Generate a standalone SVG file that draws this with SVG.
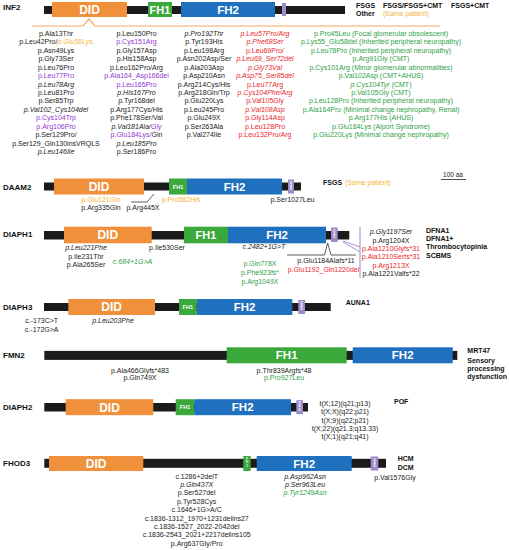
<svg xmlns="http://www.w3.org/2000/svg" width="509" height="550" viewBox="0 0 509 550">
<style>
text{font-family:"Liberation Sans",Arial,sans-serif}
.t{font-size:7px;fill:#222;text-anchor:middle}
.i{font-style:italic}
.pu{fill:#9236d2}
.rd{fill:#e9262b}
.gn{fill:#2f9f4a}
.or{fill:#f5b43a}
.bk{fill:#222}
.lab{font-size:8px;font-weight:bold;fill:#111}
.dis{font-size:7px;font-weight:bold;fill:#111}
.bar{fill:#1b1b1b}
.did{fill:#f0903a}
.fh1{fill:#3aa83a}
.fh2{fill:#1f70bf}
.dad{fill:#9d8bc9}
.dt{font-weight:bold;fill:#fff;text-anchor:middle}
.dd{font-size:3px;fill:#fff;text-anchor:middle;font-weight:bold}
.ln{fill:none;stroke:#333;stroke-width:0.8}
</style>

<g id="legend">
<text class="dis" x="356" y="7.5">FSGS</text>
<text class="dis pu" x="383" y="7.5">FSGS/FSGS+CMT</text>
<text class="dis rd" x="451" y="7.5">FSGS+CMT</text>
<text class="dis gn" x="356" y="16">Other</text>
<text class="t or" x="383" y="16" style="text-anchor:start">(Same patient)</text>
<text class="t" x="453" y="177" style="font-size:6.5px">100 aa</text>
<line x1="441" y1="179.5" x2="466" y2="179.5" stroke="#222" stroke-width="0.8"/>
</g>

<g id="connectors">
<path d="M32,26 H83 L89,19 L95,26 H440" fill="none" stroke="#f5a860" stroke-width="1.2"/>
<polyline class="ln" points="131,202 147,202 154,194"/>
<path class="ln" d="M287,255 H324.5 L327.7,243 L331,255 H356"/>
<line x1="360" y1="227" x2="360" y2="278" stroke="#9d8bc9" stroke-width="1"/>
<path d="M343,241 L360,247 M343,242 L360,252" fill="none" stroke="#9d8bc9" stroke-width="0.9"/>
</g>

<g id="INF2">
<text class="lab" x="3" y="10.3">INF2</text>
<rect class="bar" x="44" y="6" width="301" height="8"/>
<rect class="did" x="52" y="2" width="75" height="15"/>
<text class="dt" x="89.5" y="14" font-size="12">DID</text>
<rect class="fh1" x="148" y="2" width="24" height="15"/>
<text class="dt" x="160" y="13.8" font-size="11">FH1</text>
<rect class="fh2" x="181" y="2" width="94" height="15"/>
<text class="dt" x="228" y="14" font-size="11.5">FH2</text>
<rect class="dad" x="282" y="3" width="4" height="13"/>
<g class="t">
<text x="56" y="35.8">p.Ala13Thr</text>
<text x="56" y="44.26">p.Leu42Pro/<tspan class="or i">p.Glu58Lys</tspan></text>
<text x="56" y="52.72">p.Asn49Lys</text>
<text x="56" y="61.18">p.Gly73Ser</text>
<text x="56" y="69.64">p.Leu76Pro</text>
<text x="56" y="78.1" class="pu">p.Leu77Pro</text>
<text x="56" y="86.56" class="i">p.Leu78Arg</text>
<text x="56" y="95.02">p.Leu81Pro</text>
<text x="56" y="103.48">p.Ser85Trp</text>
<text x="56" y="111.94" class="i">p.Val102_Cys104del</text>
<text x="56" y="120.4" class="pu">p.Cys104Trp</text>
<text x="56" y="128.86" class="pu">p.Arg106Pro</text>
<text x="56" y="137.32">p.Ser129Pro/</text>
<text x="56" y="145.78">p.Ser129_Gln130insVRQLS</text>
<text x="56" y="154.24" class="i">p.Leu146Ile</text>

<text x="136.5" y="35.8">p.Leu150Pro</text>
<text x="136.5" y="44.26" class="pu">p.Cys151Arg</text>
<text x="136.5" y="52.72">p.Gly157Asp</text>
<text x="136.5" y="61.18">p.His158Asp</text>
<text x="136.5" y="69.64">p.Leu162Pro/Arg</text>
<text x="136.5" y="78.1" class="pu">p.Ala164_Asp166del</text>
<text x="136.5" y="86.56" class="pu">p.Leu165Pro</text>
<text x="136.5" y="95.02" class="i">p.His167Pro</text>
<text x="136.5" y="103.48">p.Tyr168del</text>
<text x="136.5" y="111.94">p.Arg177Cys/His</text>
<text x="136.5" y="120.4">p.Phe178Ser/Val</text>
<text x="136.5" y="128.86" class="i">p.Val181Ala/<tspan class="pu">Gly</tspan></text>
<text x="136.5" y="137.32"><tspan class="pu">p.Glu184Lys/</tspan>Gln</text>
<text x="136.5" y="145.78" class="i">p.Leu185Pro</text>
<text x="136.5" y="154.24">p.Ser186Pro</text>

<text x="204" y="35.8" class="i">p.Pro192Thr</text>
<text x="204" y="44.26">p.Tyr193His</text>
<text x="204" y="52.72">p.Leu198Arg</text>
<text x="204" y="61.18">p.Asn202Asp/Ser</text>
<text x="204" y="69.64">p.Ala203Asp</text>
<text x="204" y="78.1">p.Asp210Asn</text>
<text x="204" y="86.56">p.Arg214Cys/His</text>
<text x="204" y="95.02">p.Arg218Gln/Trp</text>
<text x="204" y="103.48">p.Glu220Lys</text>
<text x="204" y="111.94">p.Leu245Pro</text>
<text x="204" y="120.4">p.Glu249X</text>
<text x="204" y="128.86">p.Ser263Ala</text>
<text x="204" y="137.32">p.Val274Ile</text>

<text x="265" y="35.8" class="rd i">p.Leu57Pro/Arg</text>
<text x="265" y="44.26" class="rd i">p.Phe68Ser</text>
<text x="265" y="52.72" class="rd">p.Leu69Pro/</text>
<text x="265" y="61.18" class="rd i">p.Leu69_Ser72del</text>
<text x="265" y="69.64" class="rd i">p.Gly73Val</text>
<text x="265" y="78.1" class="rd i">p.Asp75_Ser85del</text>
<text x="265" y="86.56" class="rd">p.Leu77Arg</text>
<text x="265" y="95.02" class="rd i">p.Cys104Phe/Arg</text>
<text x="265" y="103.48" class="rd">p.Val105Gly</text>
<text x="265" y="111.94" class="rd i">p.Val108Asp</text>
<text x="265" y="120.4" class="rd">p.Gly114Asp</text>
<text x="265" y="128.86" class="rd">p.Leu128Pro</text>
<text x="265" y="137.32" class="rd">p.Leu132Pro/Arg</text>

<text x="381" y="35.8" class="gn">p.Pro45Leu (Focal glomerular obsolescent)</text>
<text x="381" y="44.26" class="gn">p.Lys55_Glu58del (Inherited peripheral neuropathy)</text>
<text x="381" y="52.72" class="gn">p.Leu78Pro (Inherited peripheral neuropathy)</text>
<text x="381" y="61.18" class="gn">p.Arg91Gly (CMT)</text>
<text x="381" y="69.64" class="gn">p.Cys101Arg (Minor glomerular abnormalities)</text>
<text x="381" y="78.1" class="gn">p.Val102Asp (CMT+AHUS)</text>
<text x="381" y="86.56" class="gn"><tspan class="i">p.Cys104Tyr</tspan> (CMT)</text>
<text x="381" y="95.02" class="gn">p.Val105Gly (CMT)</text>
<text x="381" y="103.48" class="gn">p.Leu128Pro (Inherited peripheral neuropathy)</text>
<text x="381" y="111.94" class="gn">p.Ala164Pro (Minimal change nephropathy, Renal)</text>
<text x="381" y="120.4" class="gn">p.Arg177His (AHUS)</text>
<text x="381" y="128.86" class="gn">p.Glu184Lys (Alport Syndrome)</text>
<text x="381" y="137.32" class="gn">p.Glu220Lys (Minimal change nephropathy)</text>
</g>
</g>

<g id="DAAM2">
<text class="lab" x="3" y="189.6">DAAM2</text>
<rect class="bar" x="44" y="182.5" width="257" height="8"/>
<rect class="did" x="54" y="178.5" width="90" height="16"/>
<text class="dt" x="99" y="190.8" font-size="12">DID</text>
<rect class="fh1" x="169" y="178.5" width="18" height="16"/>
<text class="dt" x="178" y="188.5" font-size="5.5">FH1</text>
<rect class="fh2" x="187" y="178.5" width="95" height="16"/>
<text class="dt" x="234.5" y="190.6" font-size="11.5">FH2</text>
<rect class="dad" x="288" y="179.5" width="6" height="14"/>
<text class="dd" x="291" y="183.5">D<tspan x="291" dy="3.2">A</tspan><tspan x="291" dy="3.2">D</tspan></text>
<text class="t or" x="101" y="201.5">p.Glu121Gln</text>
<text class="t" x="101" y="210.2">p.Arg335Gln</text>
<text class="t" x="143" y="210.2">p.Arg445X</text>
<text class="t or" x="181" y="201.5">p.Pro582His</text>
<text class="t" x="292.5" y="201.8">p.Ser1027Leu</text>
<text class="dis" x="323" y="185">FSGS</text>
<text class="t or" x="345" y="185" style="text-anchor:start">(Same patient)</text>
</g>

<g id="DIAPH1">
<text class="lab" x="3" y="236.9">DIAPH1</text>
<rect class="bar" x="44" y="231" width="305.3" height="8.5"/>
<rect class="did" x="64" y="226.7" width="87.7" height="16.6"/>
<text class="dt" x="107.8" y="239.2" font-size="12">DID</text>
<rect class="fh1" x="184" y="226.7" width="44" height="16.6"/>
<text class="dt" x="206" y="238.9" font-size="11">FH1</text>
<rect class="fh2" x="228" y="226.7" width="98" height="16.6"/>
<text class="dt" x="277" y="239.2" font-size="11.5">FH2</text>
<rect class="dad" x="331" y="227.5" width="6.7" height="14.5"/>
<text class="dd" x="334.3" y="231.8">D<tspan x="334.3" dy="3.3">A</tspan><tspan x="334.3" dy="3.3">D</tspan></text>
<text class="t i" x="86" y="249.8">p.Leu221Phe</text>
<text class="t" x="86" y="258.5">p.Ile231Thr</text>
<text class="t" x="86" y="266.8">p.Ala265Ser</text>
<text class="t i gn" x="132.5" y="263.5">c.684+1G&gt;A</text>
<text class="t" x="167" y="249.8">p.Ile530Ser</text>
<text class="t i" x="264" y="249.2">c.2482+1G&gt;T</text>
<text class="t gn" x="260" y="265.8">p.Gln778X</text>
<text class="t gn" x="260" y="274.8">p.Phe923fs*</text>
<text class="t gn" x="260" y="283.8">p.Arg1049X</text>
<text class="t" x="326" y="263.2">p.Glu1184Alafs*11</text>
<text class="t rd" x="323.5" y="271.8">p.Glu1192_Gln1220del</text>
<text class="t i" x="391" y="234.2">p.Gly1197Ser</text>
<text class="t" x="391" y="242.5">p.Arg1204X</text>
<text class="t rd" x="391" y="250.8">p.Ala1210Glyfs*31</text>
<text class="t rd" x="391" y="259.2">p.Ala1210Serfs*31</text>
<text class="t rd" x="391" y="267.8">p.Arg1213X</text>
<text class="t" x="391" y="276.2">p.Ala1221Valfs*22</text>
<text class="dis" x="426" y="232.5">DFNA1</text>
<text class="dis rd" x="426" y="240.8">DFNA1+</text>
<text class="dis rd" x="426" y="249.2">Thrombocytopinia</text>
<text class="dis gn" x="426" y="258.2">SCBMS</text>
</g>

<g id="DIAPH3">
<text class="lab" x="3" y="310.2">DIAPH3</text>
<rect class="bar" x="44" y="303" width="286.7" height="8"/>
<rect class="did" x="68.3" y="299" width="86.7" height="16"/>
<text class="dt" x="111.7" y="311.3" font-size="12">DID</text>
<rect class="fh1" x="179" y="299" width="17.7" height="16"/>
<text class="dt" x="187.8" y="309" font-size="5.5">FH1</text>
<rect class="fh2" x="196.7" y="299" width="95.6" height="16"/>
<text class="dt" x="244.5" y="311.1" font-size="11.5">FH2</text>
<rect class="dad" x="298.3" y="300" width="6.7" height="14"/>
<text class="dd" x="301.7" y="304">D<tspan x="301.7" dy="3.2">A</tspan><tspan x="301.7" dy="3.2">D</tspan></text>
<text class="dis" x="345.7" y="304.5">AUNA1</text>
<text class="t" x="41.7" y="323.2">c.-173C&gt;T</text>
<text class="t" x="41.7" y="331.5">c.-172G&gt;A</text>
<text class="t i" x="113" y="323.2">p.Leu203Phe</text>
</g>

<g id="FMN2">
<text class="lab" x="3" y="358">FMN2</text>
<rect class="bar" x="44.3" y="350.9" width="413" height="9"/>
<rect class="fh1" x="226.7" y="347.3" width="120" height="16"/>
<text class="dt" x="286.7" y="359.4" font-size="11.5">FH1</text>
<rect class="fh2" x="352.7" y="347.3" width="100" height="16"/>
<text class="dt" x="402.7" y="359.4" font-size="11.5">FH2</text>
<text class="dis" x="467.3" y="353.2">MRT47</text>
<text class="dis gn" x="467.3" y="362.5">Sensory</text>
<text class="dis gn" x="467.3" y="370.8">processing</text>
<text class="dis gn" x="467.3" y="379">dysfunction</text>
<text class="t" x="140" y="372.5">p.Ala466Glyfs*483</text>
<text class="t" x="140" y="380">p.Gln749X</text>
<text class="t" x="284" y="372.5">p.Thr839Argfs*48</text>
<text class="t gn" x="284" y="380">p.Pro927Leu</text>
</g>

<g id="DIAPH2">
<text class="lab" x="3" y="410.2">DIAPH2</text>
<rect class="bar" x="44.3" y="403" width="263.7" height="8.5"/>
<rect class="did" x="65.7" y="399.2" width="87.6" height="16"/>
<text class="dt" x="109.5" y="411.5" font-size="12">DID</text>
<rect class="fh1" x="175.7" y="399.2" width="18.6" height="16"/>
<text class="dt" x="185" y="409.2" font-size="5.5">FH1</text>
<rect class="fh2" x="194.3" y="399.2" width="96.7" height="16"/>
<text class="dt" x="242.7" y="411.3" font-size="11.5">FH2</text>
<rect class="dad" x="296.3" y="400.2" width="6.7" height="14"/>
<text class="dd" x="299.7" y="404.2">D<tspan x="299.7" dy="3.2">A</tspan><tspan x="299.7" dy="3.2">D</tspan></text>
<text class="t" x="345" y="405.8">t(X;12)(q21;p13)</text>
<text class="t" x="345" y="414.2">t(X;X)(q22;p21)</text>
<text class="t" x="345" y="422.5">t(X;9)(q22;p21)</text>
<text class="t" x="345" y="430.8">t(X;22)(q21.3;q13.33)</text>
<text class="t" x="345" y="439.2">t(X;1)(q21;q41)</text>
<text class="dis" x="394" y="404.2">POF</text>
</g>

<g id="FHOD3">
<text class="lab" x="3" y="465.6">FHOD3</text>
<rect class="bar" x="44.3" y="458.8" width="341.7" height="9"/>
<rect class="did" x="49" y="456" width="94.3" height="15"/>
<text class="dt" x="96.2" y="467.7" font-size="12">DID</text>
<rect class="fh1" x="243.3" y="456" width="7.4" height="15"/>
<text class="dd" x="247" y="460">F<tspan x="247" dy="3.3">H</tspan><tspan x="247" dy="3.3">1</tspan></text>
<rect class="fh2" x="256.7" y="456" width="95" height="15"/>
<text class="dt" x="304.2" y="467.6" font-size="11.5">FH2</text>
<rect class="dad" x="370.7" y="456.5" width="7.6" height="14"/>
<text class="dd" x="374.5" y="460.5">D<tspan x="374.5" dy="3.2">A</tspan><tspan x="374.5" dy="3.2">D</tspan></text>
<text class="dis" x="397.7" y="460.8">HCM</text>
<text class="dis gn" x="397.7" y="469.8">DCM</text>
<text class="t i" x="305" y="478.5">p.Asp962Asn</text>
<text class="t i" x="305" y="486.5">p.Ser963Leu</text>
<text class="t i gn" x="305" y="495.2">p.Tyr1249Asn</text>
<text class="t" x="395" y="480.2">p.Val1576Gly</text>
<text class="t" x="196.7" y="478.5">c.1286+2delT</text>
<text class="t i" x="196.7" y="486.9">p.Gln437X</text>
<text class="t" x="196.7" y="495.3">p.Ser527del</text>
<text class="t" x="196.7" y="503.7">p.Tyr528Cys</text>
<text class="t" x="196.7" y="512.1">c.1646+1G&gt;A/C</text>
<text class="t" x="196.7" y="520.5">c.1836-1312_1970+1231delins27</text>
<text class="t" x="196.7" y="528.9">c.1836-1527_2022-2042del</text>
<text class="t" x="196.7" y="537.3">c.1836-2543_2021+2217delins105</text>
<text class="t" x="196.7" y="545.7">p.Arg637Gly/Pro</text>
</g>
</svg>
